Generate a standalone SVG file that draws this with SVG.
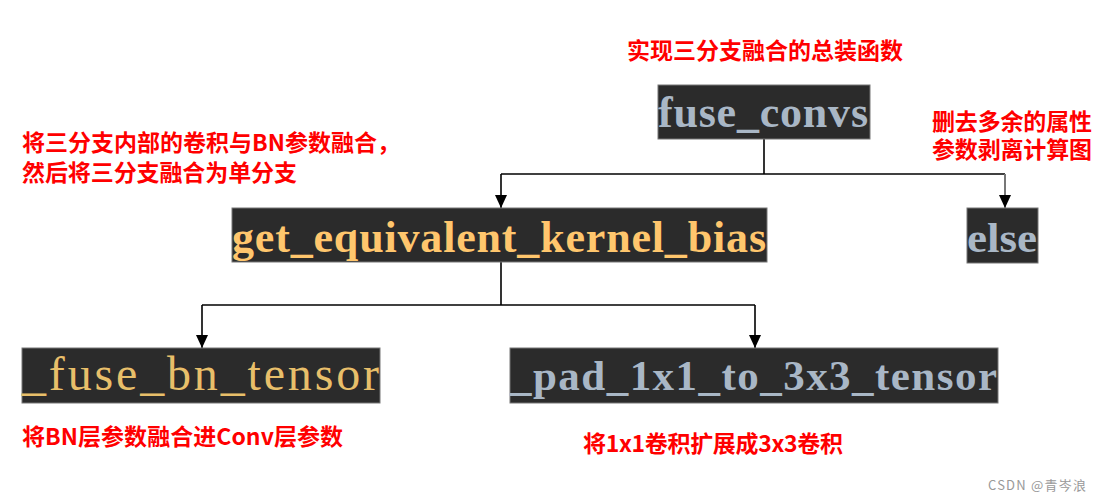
<svg xmlns="http://www.w3.org/2000/svg" width="1102" height="502" viewBox="0 0 1102 502">
<style>
.box{fill:#2b2b2b;stroke:#777;stroke-width:1}
.code{font-family:"Liberation Serif","Times New Roman",serif;font-weight:bold;font-size:44px}
.gray{fill:#a9b7c6}
.orange{fill:#ffc66d}
.note{font-family:"Noto Sans CJK SC","Liberation Sans",sans-serif;font-weight:bold;font-size:23px;fill:#ff0000}
.wire{fill:none;stroke:#000;stroke-width:1.6}
</style>
<defs>
<marker id="arr" viewBox="0 0 13 12" refX="13" refY="6" markerWidth="13" markerHeight="12" markerUnits="userSpaceOnUse" orient="auto">
<path d="M0,0 L13,6 L0,12 z" fill="#000"/>
</marker>
</defs>
<rect width="1102" height="502" fill="#fff"/>
<g id="connectors">
<path class="wire" d="M764,139 V174"/>
<path class="wire" d="M501,174 H1005"/>
<path class="wire" d="M501,174 V208" marker-end="url(#arr)"/>
<path class="wire" d="M1005,174 V208" stroke="#777" style="stroke:#777;stroke-width:2" marker-end="url(#arr)"/>
<path class="wire" d="M501,262 V305"/>
<path class="wire" d="M202,305 H755"/>
<path class="wire" d="M202,305 V348" marker-end="url(#arr)"/>
<path class="wire" d="M755,305 V348" marker-end="url(#arr)"/>
</g>
<g id="fuse_convs">
<rect class="box" x="658" y="85" width="212" height="54"/>
<text class="code gray" x="658" y="127" textLength="210" lengthAdjust="spacing">fuse_convs</text>
</g>
<g id="get_equivalent_kernel_bias">
<rect class="box" x="232" y="208" width="535" height="54"/>
<text class="code orange" x="232" y="252" textLength="534" lengthAdjust="spacing">get_equivalent_kernel_bias</text>
</g>
<g id="else">
<rect class="box" x="967" y="208" width="71" height="55"/>
<text class="code gray" x="967" y="252" font-size="42" textLength="70" lengthAdjust="spacingAndGlyphs" style="font-size:42px">else</text>
</g>
<g id="fuse_bn_tensor">
<rect class="box" x="22" y="348" width="358" height="55"/>
<text x="22" y="390" font-family="Liberation Serif, Times New Roman, serif" font-size="48" fill="#e8bf6a" textLength="357" lengthAdjust="spacing">_fuse_bn_tensor</text>
</g>
<g id="pad_1x1_to_3x3_tensor">
<rect class="box" x="510" y="348" width="488" height="55"/>
<text class="code gray" x="510" y="390" style="font-size:43px" textLength="487" lengthAdjust="spacing">_pad_1x1_to_3x3_tensor</text>
</g>
<g id="annotations">
<text class="note" x="627" y="59" textLength="276" lengthAdjust="spacing">实现三分支融合的总装函数</text>
<text class="note" x="932" y="130" textLength="160" lengthAdjust="spacing">删去多余的属性</text>
<text class="note" x="932" y="158" textLength="160" lengthAdjust="spacing">参数剥离计算图</text>
<text class="note" x="22" y="151">将三分支内部的卷积与BN参数融合，</text>
<text class="note" x="22" y="181" textLength="275" lengthAdjust="spacing">然后将三分支融合为单分支</text>
<text class="note" x="22" y="445" textLength="321" lengthAdjust="spacing">将BN层参数融合进Conv层参数</text>
<text class="note" x="583" y="452" textLength="260" lengthAdjust="spacing">将1x1卷积扩展成3x3卷积</text>
</g>
<text x="988" y="490" font-family="Noto Sans CJK SC, Liberation Sans, sans-serif" font-size="13" fill="#999" textLength="98" lengthAdjust="spacing">CSDN @青岑浪</text>
</svg>
